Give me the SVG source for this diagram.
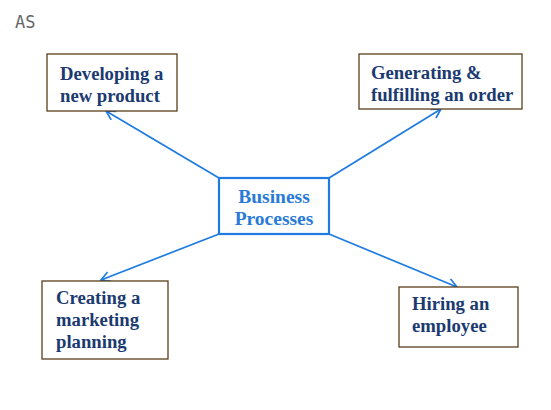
<svg xmlns="http://www.w3.org/2000/svg" width="551" height="410" viewBox="0 0 551 410">
<style>
.box{fill:#fff;stroke:#5a3e1b;stroke-width:1.3}
.lbl{font-family:"Liberation Serif","Times New Roman",serif;font-weight:bold;font-size:18.7px;fill:#1b3a70}
.ctr{font-family:"Liberation Serif","Times New Roman",serif;font-weight:bold;font-size:19.5px;fill:#2a7ad8;text-anchor:middle}
.conn{stroke:#1e7be0;stroke-width:1.7;fill:none}
</style>
<defs>
<marker id="ah" markerWidth="12" markerHeight="12" refX="10" refY="6" orient="auto" markerUnits="userSpaceOnUse">
<path d="M1,1 L10,6 L1,11" fill="none" stroke="#1e7be0" stroke-width="1.7"/>
</marker>
</defs>
<rect width="551" height="410" fill="#fff"/>
<text x="15" y="28" font-family="'DejaVu Sans Mono','Liberation Mono',monospace" font-size="17" fill="#666">AS</text>
<g id="connectors">
<line class="conn" x1="219" y1="178" x2="106" y2="111" marker-end="url(#ah)"/>
<line class="conn" x1="329" y1="178" x2="441" y2="109" marker-end="url(#ah)"/>
<line class="conn" x1="219" y1="234" x2="101" y2="280" marker-end="url(#ah)"/>
<line class="conn" x1="329" y1="234" x2="457" y2="287" marker-end="url(#ah)"/>
</g>
<g id="center">
<rect x="219" y="178" width="110" height="56" fill="#fff" stroke="#1e7be0" stroke-width="2.2"/>
<text class="ctr" x="274" y="203">Business</text>
<text class="ctr" x="274" y="225">Processes</text>
</g>
<g id="developing">
<rect class="box" x="47" y="54" width="130" height="57"/>
<text class="lbl" x="60" y="80">Developing a</text>
<text class="lbl" x="60" y="102">new product</text>
</g>
<g id="generating">
<rect class="box" x="359" y="54" width="163" height="55"/>
<text class="lbl" x="371" y="79">Generating &amp;</text>
<text class="lbl" x="371" y="101">fulfilling an order</text>
</g>
<g id="creating">
<rect class="box" x="42" y="281" width="126" height="78"/>
<text class="lbl" x="56" y="304">Creating a</text>
<text class="lbl" x="56" y="326">marketing</text>
<text class="lbl" x="56" y="348">planning</text>
</g>
<g id="hiring">
<rect class="box" x="399" y="287" width="119" height="60"/>
<text class="lbl" x="412" y="310">Hiring an</text>
<text class="lbl" x="412" y="332">employee</text>
</g>
</svg>
